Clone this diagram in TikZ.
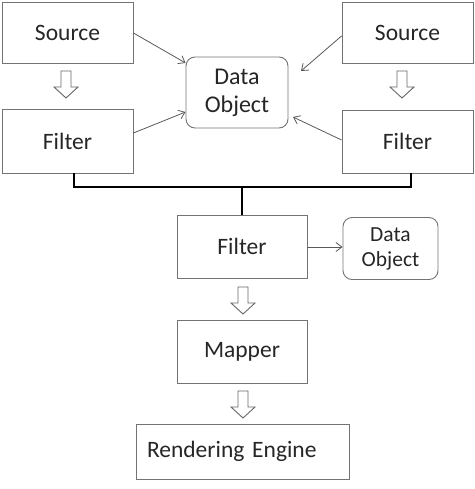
\documentclass[tikz,border=0pt]{standalone}
\usepackage{fontspec}
\setmainfont{Carlito}
\usetikzlibrary{arrows.meta}
\begin{document}
\begin{tikzpicture}[x=1pt,y=-1pt,
  box/.style={draw=black!55,line width=0.9pt,fill=white,inner sep=0pt,text=black!85,font=\fontsize{23.5}{27}\selectfont},
  dobj/.style={draw=black!55,line width=0.9pt,rounded corners=9pt,inner sep=0pt,align=center,text=black!85,font=\fontsize{21.5}{25}\selectfont},
  conn/.style={draw=black!65,line width=0.8pt,-{Straight Barb[length=6pt,width=9pt]}},
  bracket/.style={draw=black,line width=1.8pt},
  hollow/.style={draw=black!60,line width=0.9pt,fill=white}]
\useasboundingbox (0,0) rectangle (474,489);
\node[box,minimum width=131pt,minimum height=61pt] (src1) at (67.5,32.5) {Source};
\node[box,minimum width=131pt,minimum height=64pt] (flt1) at (67.5,141) {Filter};
\node[box,minimum width=131pt,minimum height=61pt] (src2) at (407.5,32.5) {Source};
\node[box,minimum width=131pt,minimum height=63pt] (flt2) at (407.5,141.5) {Filter};
\node[dobj,minimum width=102pt,minimum height=71pt,font=\fontsize{24}{28}\selectfont] (do1) at (237,92.5) {Data\\Object};
\node[box,minimum width=130pt,minimum height=63pt] (flt3) at (242,246.5) {Filter};
\node[dobj,minimum width=95pt,minimum height=62pt] (do2) at (390.5,248.5) {Data\\Object};
\node[box,minimum width=130pt,minimum height=63pt] (map) at (242,351.5) {Mapper};
\node[box,minimum width=213pt,minimum height=55pt,text width=191pt,align=left] (ren) at (242.5,451.5) {Rendering Engine};
% connectors to data object
\draw[conn] (src1.east |- 0,33) -- (do1.west |- 0,63);
\draw[conn] (flt1.east |- 0,133) -- (do1.west |- 0,112);
\draw[conn] (src2.west |- 0,36) -- (301,71);
\draw[conn] (flt2.west |- 0,140) -- (293,117);
\draw[conn] (flt3.east |- 0,247) -- (do2.west |- 0,247);
% bracket
\coordinate (bl) at (74,187);
\coordinate (br) at (411,187);
\coordinate (bm) at (242,187);
\draw[bracket] (flt1.south -| bl) -- (bl) -- (br) -- (flt2.south -| br);
\draw[bracket] (bm) -- (flt3.north);
% hollow arrows
\newcommand{\hollowarrow}[2]{%
  \draw[hollow] (#1-5,#2) -- (#1+5,#2) -- (#1+5,#2+16) -- (#1+12,#2+16) -- (#1,#2+27) -- (#1-12,#2+16) -- (#1-5,#2+16) -- cycle;}
\hollowarrow{66}{71}
\hollowarrow{402}{71}
\hollowarrow{243}{287}
\hollowarrow{243}{391}
\end{tikzpicture}
\end{document}
